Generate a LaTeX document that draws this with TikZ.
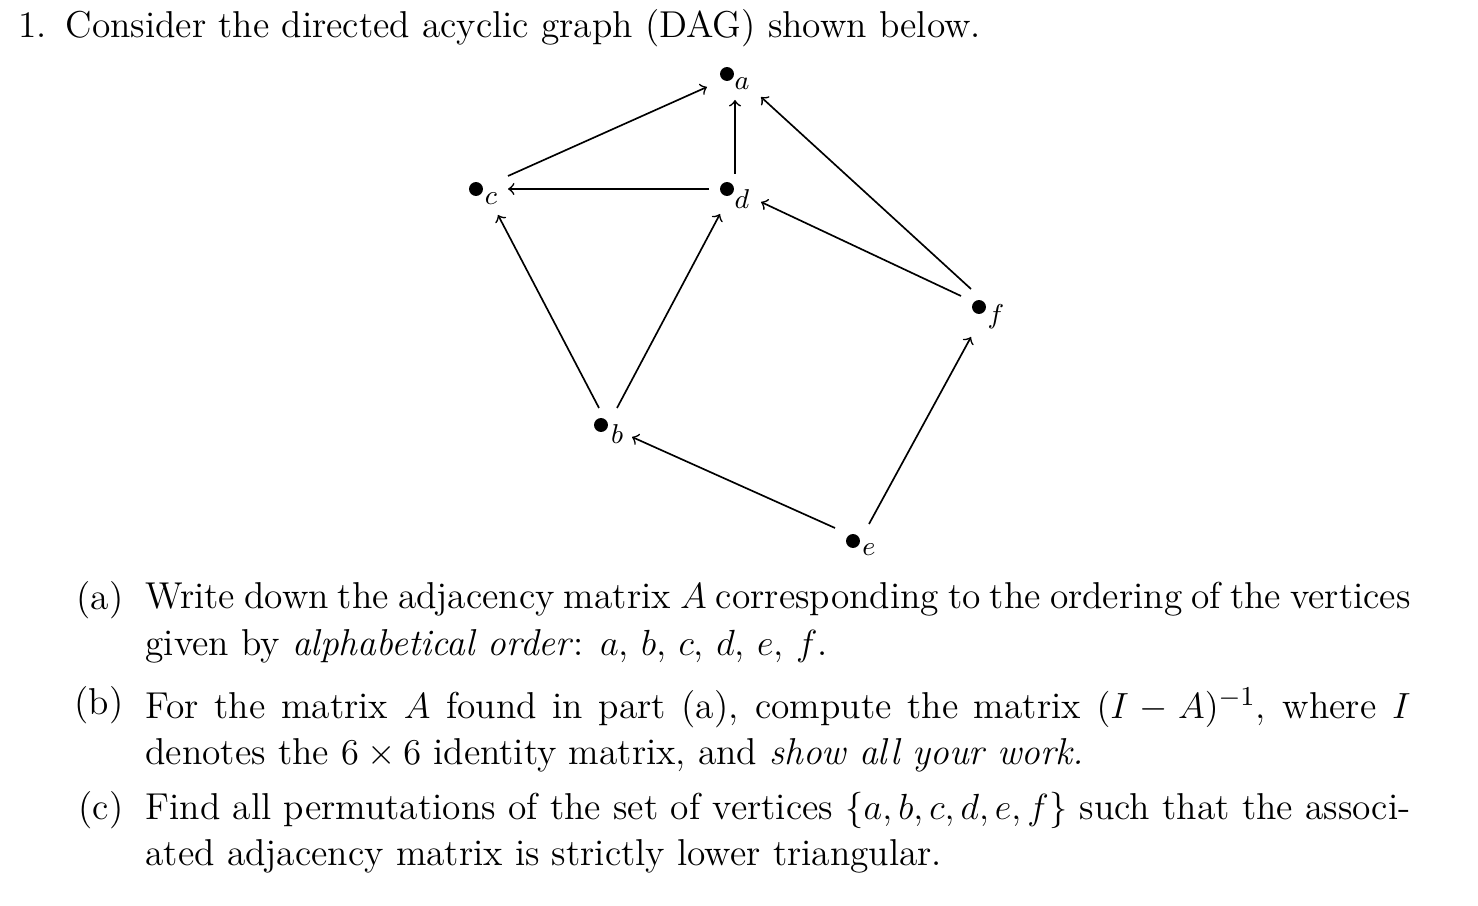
\documentclass[tikz,border=0pt]{standalone}
\begin{document}
\begin{tikzpicture}[x=0.33pt,y=-0.33pt,
  vtx/.style={circle,fill=black,inner sep=0pt,minimum size=4.6pt},
  lab/.style={font=\small\itshape,inner sep=1pt},
  edge/.style={->,>=to,line width=0.55pt},
  body/.style={anchor=north west,text width=1265*0.33pt,align=justify,inner sep=0pt,font=\fontsize{12.35}{15.2}\selectfont},
  txt/.style={inner sep=0pt,font=\fontsize{12.35}{15.2}\selectfont}]
\useasboundingbox (0,0) rectangle (1478,906);
\node[anchor=base west,txt] (title) at (18,38) {1.\enspace Consider the directed acyclic graph (DAG) shown below.};
\node[vtx] (a) at (727,74) {}; \node[lab] at (742,84) {$a$};
\node[vtx] (c) at (476,189) {}; \node[lab] at (491,199) {$c$};
\node[vtx] (d) at (727,189) {}; \node[lab] at (742,199) {$d$};
\node[vtx] (f) at (979,307) {}; \node[lab] at (996,317) {$f$};
\node[vtx] (b) at (601,425) {}; \node[lab] at (617,434) {$b$};
\node[vtx] (e) at (853,541) {}; \node[lab] at (869,550) {$e$};
\coordinate (cA) at (508,176); \coordinate (aC) at (707,87);
\coordinate (dA) at (735,174); \coordinate (aD) at (735,100);
\coordinate (fA) at (971,289); \coordinate (aF) at (761,97);
\coordinate (dC) at (709,189); \coordinate (cD) at (508,189);
\coordinate (fD) at (961,296); \coordinate (dF) at (761,202);
\coordinate (bC) at (599,408); \coordinate (cB) at (498,215);
\coordinate (bD) at (617,408); \coordinate (dB) at (720,214);
\coordinate (eB) at (835,528); \coordinate (bE) at (632,437);
\coordinate (eF) at (869,524); \coordinate (fE) at (971,337);
\draw[edge] (cA) -- (aC);
\draw[edge] (dA) -- (aD);
\draw[edge] (fA) -- (aF);
\draw[edge] (dC) -- (cD);
\draw[edge] (fD) -- (dF);
\draw[edge] (bC) -- (cB);
\draw[edge] (bD) -- (dB);
\draw[edge] (eB) -- (bE);
\draw[edge] (eF) -- (fE);
\node[anchor=base east,txt] (la) at (124,610) {(a)};
\node[body] (ia) at (145,582) {Write down the adjacency matrix $A$ corresponding to the ordering of the vertices given by \emph{alphabetical order}: $a$, $b$, $c$, $d$, $e$, $f$.};
\node[anchor=base east,txt] (lb) at (124,715) {(b)};
\node[body] (ib) at (145,687) {For the matrix $A$ found in part (a), compute the matrix $(I-A)^{-1}$, where $I$\linebreak denotes the $6\times6$ identity matrix, and \emph{show all your work.}};
\node[anchor=base east,txt] (lc) at (124,820) {(c)};
\node[body] (ic) at (145,792) {Find all permutations of the set of vertices $\{a,b,c,d,e,f\}$ such that the associ-\linebreak ated adjacency matrix is strictly lower triangular.};
\end{tikzpicture}
\end{document}
